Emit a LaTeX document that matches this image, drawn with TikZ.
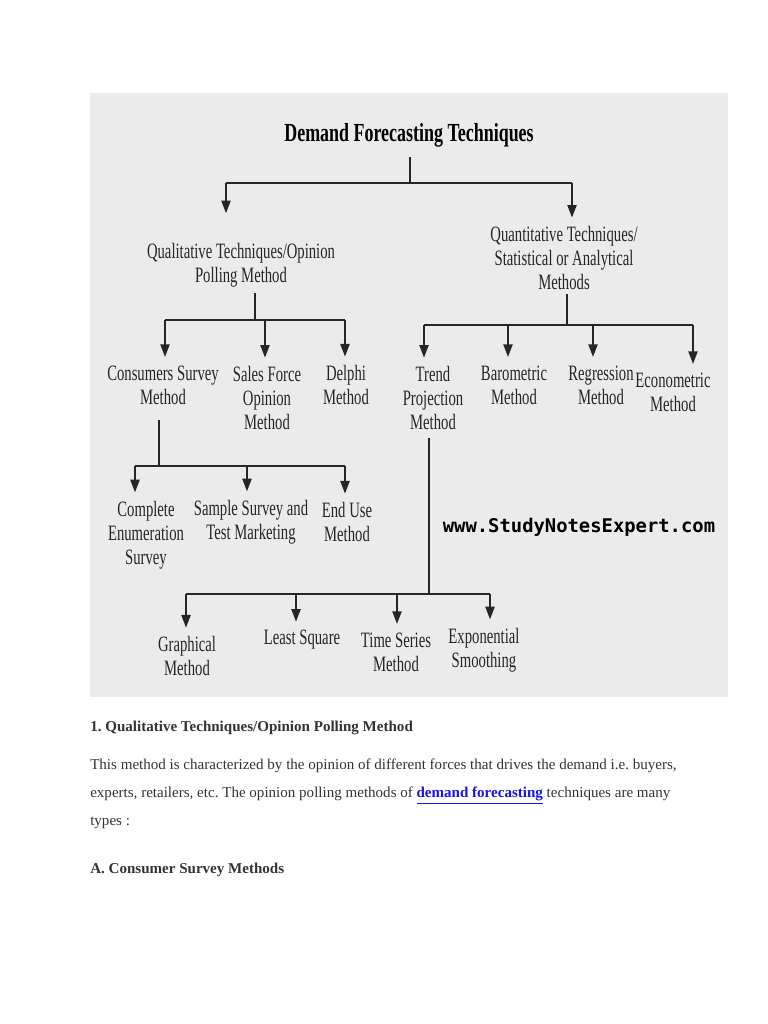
\documentclass[tikz,border=0pt]{standalone}
\usepackage{fontspec}
\setmainfont{Liberation Serif}
\newfontfamily\bookfont[FakeStretch=0.67]{Liberation Serif}
\newfontfamily\titlefont[FakeStretch=0.69]{Liberation Serif}
\newfontfamily\webfont{DejaVu Sans Mono}
\usetikzlibrary{arrows.meta,positioning}
\definecolor{photogray}{RGB}{235,235,235}
\definecolor{inkgray}{RGB}{38,38,38}
\definecolor{textgray}{RGB}{51,51,51}
\definecolor{linkblue}{RGB}{20,20,235}
\frenchspacing

\begin{document}
\begin{tikzpicture}[
        x=0.025cm, y=-0.025cm,
        box/.style={align=center, inner sep=0pt, text=inkgray, font=\bookfont\fontsize{15.6}{17}\selectfont},
        line/.style={draw=inkgray, line width=1.3pt},
        arrow/.style={line, -{Triangle[length=9pt,width=6.5pt]}, shorten >=6pt},
        para/.style={anchor=north west, inner sep=0pt, align=left, text=textgray, font=\fontsize{10.7}{19.8}\selectfont}
    ]
        \fill[white] (0,0) rectangle (768,1024);
        \useasboundingbox (0,0) rectangle (768,1024);
        \fill[photogray] (90,93) rectangle (728,697);

        % tree nodes
        \node (title) [box, text=black, font=\titlefont\bfseries\fontsize{18.5}{20}\selectfont] at (409,135) {Demand Forecasting Techniques};
        \node (qual) [box] at (241,265) {Qualitative Techniques/Opinion\\Polling Method};
        \node (quant) [box] at (564,258) {Quantitative Techniques/\\Statistical or Analytical\\Methods};
        \node (consumer) [box] at (163,385) {Consumers Survey\\Method};
        \node (salesforce) [box] at (267,398) {Sales Force\\Opinion\\Method};
        \node (delphi) [box] at (346,385) {Delphi\\Method};
        \node (trend) [box] at (433,398) {Trend\\Projection\\Method};
        \node (baro) [box] at (514,385) {Barometric\\Method};
        \node (regr) [box] at (601,385) {Regression\\Method};
        \node (econo) [box] at (673,392) {Econometric\\Method};
        \node (complete) [box] at (146,535) {Complete\\Enumeration\\Survey};
        \node (sample) [box] at (251,522) {Sample Survey and\\Test Marketing};
        \node (enduse) [box] at (347,522) {End Use\\Method};
        \node (graph) [box] at (187,656) {Graphical\\Method};
        \node (leastsq) [box] at (302,640) {Least Square};
        \node (timeser) [box] at (396,652) {Time Series\\Method};
        \node (expo) [box] at (484,650) {Exponential\\Smoothing};
        \node (url) [text=black, font=\webfont\bfseries\fontsize{13.4}{16}\selectfont] at (579,527) {www.StudyNotesExpert.com};

        % junctions
        \coordinate (top) at (410,183);
        \coordinate (topl) at (226,183);
        \coordinate (topr) at (572,183);
        \coordinate (ql) at (255,320);
        \coordinate (q1) at (165,320);
        \coordinate (q2) at (265,320);
        \coordinate (q3) at (345,320);
        \coordinate (qr) at (567,325);
        \coordinate (s1) at (424,325);
        \coordinate (s2) at (508,325);
        \coordinate (s3) at (593,325);
        \coordinate (s4) at (693,325);
        \coordinate (cs) at (159,466);
        \coordinate (c1) at (135,466);
        \coordinate (c2) at (247,466);
        \coordinate (c3) at (345,466);
        \coordinate (tp) at (429,594);
        \coordinate (t1) at (186,594);
        \coordinate (t2) at (296,594);
        \coordinate (t3) at (397,594);
        \coordinate (t4) at (490,594);

        \draw[line, shorten <=7pt] (title.south -| top) -- (top);
        \draw[line] (topl) -- (topr);
        \draw[arrow, shorten >=21pt] (topl) -- (topl |- qual.north);
        \draw[arrow] (topr) -- (topr |- quant.north);

        \draw[line, shorten <=4pt] (qual.south -| ql) -- (ql);
        \draw[line] (q1) -- (q3);
        \draw[arrow] (q1) -- (q1 |- consumer.north);
        \draw[arrow] (q2) -- (q2 |- salesforce.north);
        \draw[arrow] (q3) -- (q3 |- delphi.north);

        \draw[line, shorten <=3pt] (quant.south -| qr) -- (qr);
        \draw[line] (s1) -- (s4);
        \draw[arrow] (s1) -- (s1 |- trend.north);
        \draw[arrow] (s2) -- (s2 |- baro.north);
        \draw[arrow] (s3) -- (s3 |- regr.north);
        \draw[arrow] (s4) -- (s4 |- econo.north);

        \draw[line, shorten <=11pt] (consumer.south -| cs) -- (cs);
        \draw[line] (c1) -- (c3);
        \draw[arrow] (c1) -- (c1 |- complete.north);
        \draw[arrow] (c2) -- (c2 |- sample.north);
        \draw[arrow] (c3) -- (c3 |- enduse.north);

        \draw[line, shorten <=6pt] (trend.south -| tp) -- (tp);
        \draw[line] (t1) -- (t4);
        \draw[arrow] (t1) -- (t1 |- graph.north);
        \draw[arrow] (t2) -- (t2 |- leastsq.north);
        \draw[arrow] (t3) -- (t3 |- timeser.north);
        \draw[arrow] (t4) -- (t4 |- expo.north);

        % text below the picture
        \node (head1) [para, font=\bfseries\fontsize{10.7}{12}\selectfont] at (90,721) {1. Qualitative Techniques/Opinion Polling Method};
        \node (body) [para] at (90,759) {This method is characterized by the opinion of different forces that drives the demand i.e. buyers,\\
            experts, retailers, etc. The opinion polling methods of \textcolor{linkblue}{\bfseries\underline{demand forecasting}} techniques are many\\
            types :};
        \node (headA) [para, font=\bfseries\fontsize{10.7}{12}\selectfont] at (90,863) {A. Consumer Survey Methods};
    \end{tikzpicture}
\end{document}
